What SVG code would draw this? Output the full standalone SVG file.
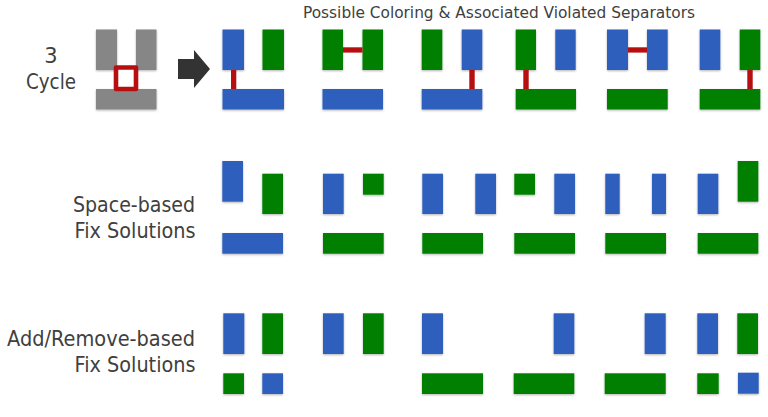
<svg xmlns="http://www.w3.org/2000/svg" width="768" height="417" viewBox="0 0 768 417">
<style>
.b{fill:#2f5fbd;filter:url(#s)}
.g{fill:#027f02;filter:url(#s)}
.k{fill:#868686;filter:url(#s)}
.r{fill:#b70f0f}
text{font-family:"DejaVu Sans","Liberation Sans",sans-serif;fill:#404040}
.l{font-size:21px;text-anchor:end}
.c{font-size:21px;text-anchor:middle}
</style>
<defs>
<filter id="s" x="-20%" y="-20%" width="140%" height="150%"><feDropShadow dx="0" dy="1" stdDeviation="0.8" flood-color="#000" flood-opacity="0.3"/></filter>
</defs>
<rect width="768" height="417" fill="#fff"/>
<g id="labels">
<text x="303" y="17.5" font-size="16" textLength="392" lengthAdjust="spacingAndGlyphs">Possible Coloring &amp; Associated Violated Separators</text>
<text class="c" x="51" y="63.3">3</text>
<text class="c" x="51" y="89" textLength="50" lengthAdjust="spacingAndGlyphs">Cycle</text>
<text class="l" x="195" y="211.5" textLength="122" lengthAdjust="spacingAndGlyphs">Space-based</text>
<text class="l" x="195.5" y="237.5" textLength="121" lengthAdjust="spacingAndGlyphs">Fix Solutions</text>
<text class="l" x="195" y="346" textLength="188" lengthAdjust="spacingAndGlyphs">Add/Remove-based</text>
<text class="l" x="195.5" y="372.3" textLength="121" lengthAdjust="spacingAndGlyphs">Fix Solutions</text>
</g>
<g id="cycle">
<rect class="k" x="96" y="29.5" width="21" height="40.5"/>
<rect class="k" x="136" y="29.5" width="20.5" height="40.5"/>
<rect class="k" x="96" y="89" width="60.5" height="20.5"/>
<rect x="116" y="67.5" width="20" height="21.500000000000004" fill="none" stroke="#b70f0f" stroke-width="4.6" stroke-linejoin="round"/>
</g>
<path id="arrow" d="M178 59H194V50L210 69L194 88V79H178Z" fill="#333"/>
<g id="coloring-1"><rect class="b" x="222.5" y="29.5" width="21.5" height="40.5"/><rect class="g" x="262.5" y="29.5" width="21.5" height="40.5"/><rect class="b" x="222.5" y="89" width="61.5" height="20.5"/></g>
<g id="coloring-2"><rect class="g" x="322.5" y="29.5" width="20.5" height="40.5"/><rect class="g" x="362.5" y="29.5" width="20.5" height="40.5"/><rect class="b" x="322.5" y="89" width="60.5" height="20.5"/></g>
<g id="coloring-3"><rect class="g" x="421.7" y="29.5" width="20.6" height="40.5"/><rect class="b" x="461.7" y="29.5" width="20.6" height="40.5"/><rect class="b" x="421.7" y="89" width="60.6" height="20.5"/></g>
<g id="coloring-4"><rect class="g" x="515.7" y="29.5" width="20.3" height="40.5"/><rect class="b" x="555.3" y="29.5" width="20.4" height="40.5"/><rect class="g" x="515.7" y="89" width="60.3" height="20.5"/></g>
<g id="coloring-5"><rect class="b" x="607" y="29.5" width="21" height="40.5"/><rect class="b" x="647" y="29.5" width="20.7" height="40.5"/><rect class="g" x="607" y="89" width="60.7" height="20.5"/></g>
<g id="coloring-6"><rect class="b" x="699.7" y="29.5" width="20.6" height="40.5"/><rect class="g" x="739.7" y="29.5" width="20.6" height="40.5"/><rect class="g" x="699.7" y="89" width="60.6" height="20.5"/></g>
<g id="connectors">
<rect class="r" x="231" y="70" width="5.3" height="19"/>
<rect class="r" x="343" y="47.3" width="19.5" height="5.3"/>
<rect class="r" x="469.3" y="70" width="5.4" height="19"/>
<rect class="r" x="523.3" y="70" width="5.4" height="19"/>
<rect class="r" x="628" y="47.3" width="19" height="5.3"/>
<rect class="r" x="747.3" y="70" width="5.4" height="19"/>
</g>
<g id="space-1"><rect class="b" x="222.3" y="161" width="20.7" height="40.7"/><rect class="g" x="262.3" y="173.7" width="20.7" height="40.3"/><rect class="b" x="222.3" y="233" width="60.7" height="20.7"/></g>
<g id="space-2"><rect class="b" x="323" y="173.7" width="20.7" height="40.3"/><rect class="g" x="363" y="173.7" width="20.7" height="21"/><rect class="g" x="323" y="233" width="60.7" height="20.7"/></g>
<g id="space-3"><rect class="b" x="422.3" y="173.7" width="20.7" height="40.3"/><rect class="b" x="475.3" y="173.7" width="20.7" height="40.3"/><rect class="g" x="422.3" y="233" width="60.7" height="20.7"/></g>
<g id="space-4"><rect class="g" x="514.3" y="173.7" width="20.7" height="21"/><rect class="b" x="554.3" y="173.7" width="20.7" height="40.3"/><rect class="g" x="514.3" y="233" width="60.7" height="20.7"/></g>
<g id="space-5"><rect class="b" x="605.3" y="173.7" width="14.4" height="40.3"/><rect class="b" x="652" y="173.7" width="14" height="40.3"/><rect class="g" x="605.3" y="233" width="60.7" height="20.7"/></g>
<g id="space-6"><rect class="b" x="697.7" y="173.7" width="20.6" height="40.3"/><rect class="g" x="737.7" y="161" width="20.6" height="40.7"/><rect class="g" x="697.7" y="233" width="60.6" height="20.7"/></g>
<g id="add-1"><rect class="b" x="223.3" y="313.3" width="21" height="40.7"/><rect class="g" x="262.3" y="313.3" width="20.7" height="40.7"/><rect class="g" x="223.3" y="373.3" width="20.7" height="20.7"/><rect class="b" x="262.3" y="373.3" width="20.7" height="20.7"/></g>
<g id="add-2"><rect class="b" x="323" y="313.3" width="20.7" height="40.7"/><rect class="g" x="363" y="313.3" width="20.7" height="40.7"/></g>
<g id="add-3"><rect class="b" x="422" y="313.3" width="21" height="40.7"/><rect class="g" x="422" y="373.3" width="61" height="20.7"/></g>
<g id="add-4"><rect class="b" x="553.7" y="313.3" width="20.6" height="40.7"/><rect class="g" x="513.7" y="373.3" width="60.6" height="20.7"/></g>
<g id="add-5"><rect class="b" x="644.7" y="313.3" width="21" height="40.7"/><rect class="g" x="604.7" y="373.3" width="61" height="20.7"/></g>
<g id="add-6"><rect class="b" x="697.3" y="313.3" width="20.7" height="40.7"/><rect class="g" x="737.3" y="313.3" width="20.7" height="40.7"/><rect class="g" x="697.3" y="373.3" width="21.4" height="20.7"/><rect class="b" x="738" y="372.7" width="20.7" height="21"/></g>
</svg>
